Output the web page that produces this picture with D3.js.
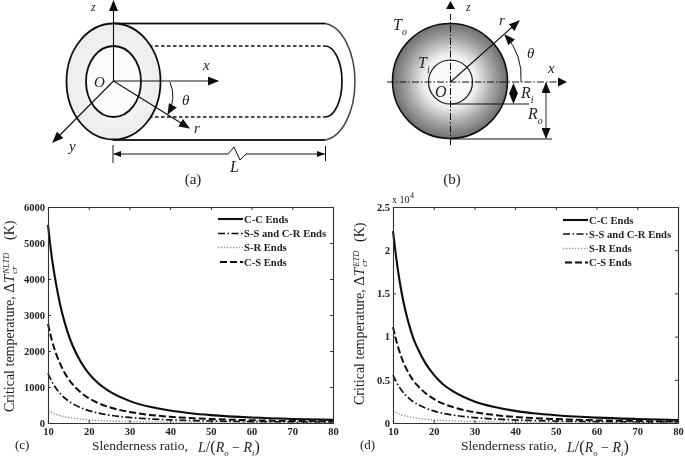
<!DOCTYPE html>
<html>
<head>
<meta charset="utf-8">
<script src="https://cdnjs.cloudflare.com/ajax/libs/d3/7.8.5/d3.min.js"></script>
<style>
  html, body { margin: 0; padding: 0; background: #fff; }
  text { font-family: "Liberation Serif", serif; fill: #222; }
  .it { font-style: italic; }
</style>
</head>
<body>
<svg id="fig" width="685" height="457"></svg>
<script>
'use strict';

var slenderness = [10, 11, 12, 13, 14, 15, 16, 18, 20, 22, 25, 30, 35, 40, 45, 50, 60, 70, 80];

// panel (c), kelvin
var ccNltd = [5500, 4550, 3850, 3280, 2830, 2460, 2160, 1710, 1380, 1140, 885, 615, 450, 345, 272, 220, 153, 112, 86];
var csNltd = [2750, 2280, 1920, 1640, 1410, 1230, 1080, 855, 690, 570, 442, 307, 225, 172, 136, 110, 76, 56, 43];
var ssNltd = [1375, 1140, 960, 820, 705, 615, 540, 428, 345, 285, 221, 154, 113, 86, 68, 55, 38, 28, 21];
var srNltd = [345, 285, 240, 205, 176, 154, 135, 107, 86, 71, 55, 38, 28, 22, 17, 14, 10, 7, 5];

// panel (d), x 10^4 kelvin
var ccEtd = [2.22, 1.84, 1.54, 1.31, 1.13, 0.98, 0.87, 0.69, 0.56, 0.46, 0.36, 0.25, 0.185, 0.14, 0.11, 0.09, 0.062, 0.046, 0.035];
var csEtd = [1.11, 0.92, 0.77, 0.655, 0.565, 0.49, 0.435, 0.345, 0.28, 0.23, 0.18, 0.125, 0.092, 0.07, 0.055, 0.045, 0.031, 0.023, 0.0175];
var ssEtd = [0.555, 0.46, 0.385, 0.328, 0.282, 0.245, 0.217, 0.172, 0.14, 0.115, 0.09, 0.062, 0.046, 0.035, 0.028, 0.0225, 0.0155, 0.0115, 0.0088];
var srEtd = [0.139, 0.115, 0.096, 0.082, 0.071, 0.061, 0.054, 0.043, 0.035, 0.029, 0.022, 0.016, 0.012, 0.009, 0.007, 0.0056, 0.004, 0.003, 0.0022];

var xTicks = [10, 20, 30, 40, 50, 60, 70, 80];
var yTicksC = [0, 1000, 2000, 3000, 4000, 5000, 6000];
var yTicksD = [0, 0.5, 1, 1.5, 2, 2.5];
var legendLabels = ['C-C Ends', 'S-S and C-R Ends', 'S-R Ends', 'C-S Ends'];

var svg = d3.select('#fig');
var defs = svg.append('defs');

defs.append('marker').attr('id', 'arrow')
  .attr('viewBox', '0 0 11 9').attr('refX', 10).attr('refY', 4.5)
  .attr('markerWidth', 11).attr('markerHeight', 9)
  .attr('markerUnits', 'userSpaceOnUse').attr('orient', 'auto-start-reverse')
  .append('path').attr('d', 'M0,0L11,4.5L0,9Z').attr('fill', '#111');

var soft = defs.append('filter').attr('id', 'soft');
soft.append('feGaussianBlur').attr('stdDeviation', 0.35);

var ring = defs.append('radialGradient').attr('id', 'ring');
ring.append('stop').attr('offset', '0%').attr('stop-color', '#fff');
ring.append('stop').attr('offset', '45%').attr('stop-color', '#f0f0f0');
ring.append('stop').attr('offset', '75%').attr('stop-color', '#a4a4a4');
ring.append('stop').attr('offset', '100%').attr('stop-color', '#6e6e6e');

var face = defs.append('radialGradient').attr('id', 'face');
face.append('stop').attr('offset', '0%').attr('stop-color', '#fefefe');
face.append('stop').attr('offset', '100%').attr('stop-color', '#ececec');

function line(g, x1, y1, x2, y2, w, dash, arrow) {
  var l = g.append('line').attr('x1', x1).attr('y1', y1).attr('x2', x2).attr('y2', y2)
    .attr('stroke', '#111').attr('stroke-width', w);
  if (dash) l.attr('stroke-dasharray', dash);
  if (arrow) l.attr('marker-end', 'url(#arrow)');
  return l;
}

// parts = [[text, 'i' | 'sub' | 'big' | ''], ...]
function label(g, x, y, size, parts, anchor) {
  var t = g.append('text').attr('x', x).attr('y', y).attr('font-size', size);
  if (anchor) t.attr('text-anchor', anchor);
  var shift = 0;
  parts.forEach(function (p) {
    var s = t.append('tspan').text(p[0]);
    if (p[1] === 'i') s.attr('class', 'it');
    if (p[1] === 'big') s.attr('font-size', size * 1.15);
    if (p[1] === 'sub') {
      var want = size * 0.3;
      s.attr('class', 'it').attr('font-size', size * 0.62).attr('dy', want - shift);
      shift = want;
    } else if (shift) {
      s.attr('dy', -shift);
      shift = 0;
    }
  });
  return t;
}

function drawCylinder() {
  var g = svg.append('g').attr('filter', 'url(#soft)');
  g.append('path').attr('d', 'M113,23.5H325A33,58.5 0 0 1 325,140H113')
    .attr('fill', 'none').attr('stroke', '#444').attr('stroke-width', 1.5);
  g.append('line').attr('x1', 113).attr('x2', 325).attr('y1', 23.5).attr('y2', 23.5)
    .attr('stroke', '#111').attr('stroke-width', 1.7);
  g.append('line').attr('x1', 113).attr('x2', 325).attr('y1', 140).attr('y2', 140)
    .attr('stroke', '#111').attr('stroke-width', 1.7);
  g.append('path').attr('d', 'M325,46A17,35.5 0 0 1 325,117')
    .attr('fill', 'none').attr('stroke', '#111').attr('stroke-width', 1.7);
  line(g, 125, 46, 325, 46, 1.6, '3.5,2.5');
  line(g, 125, 117, 325, 117, 1.6, '3.5,2.5');
  g.append('ellipse').attr('cx', 113.5).attr('cy', 81.5).attr('rx', 47).attr('ry', 58)
    .attr('fill', 'url(#face)').attr('stroke', '#111').attr('stroke-width', 1.8);
  g.append('ellipse').attr('cx', 113.5).attr('cy', 81.5).attr('rx', 27.5).attr('ry', 35.5)
    .attr('fill', '#fcfcfc').attr('stroke', '#111').attr('stroke-width', 1.8);
  line(g, 113.5, 81, 113.5, 1, 1.1, null, true);
  line(g, 113.5, 81, 218, 81, 1.1, null, true);
  line(g, 113.5, 81, 53, 142, 1.1, null, true);
  line(g, 113.5, 81, 189, 128, 1.1, null, true);
  g.append('path').attr('d', 'M170,82A37,37 0 0 1 168,114')
    .attr('fill', 'none').attr('stroke', '#111').attr('stroke-width', 1).attr('marker-end', 'url(#arrow)');
  line(g, 113, 145, 113, 163, 1, null);
  line(g, 325.5, 146, 325.5, 161, 1, null);
  g.append('path').attr('d', 'M114,154H228L234,147L240,160L246,154H325')
    .attr('fill', 'none').attr('stroke', '#111').attr('stroke-width', 1);
  g.append('path').attr('d', 'M113,154L121,151V157Z').attr('fill', '#111');
  g.append('path').attr('d', 'M325,154L317,151V157Z').attr('fill', '#111');
  label(g, 91, 11, 12, [['z', 'i']]);
  label(g, 203, 70, 15, [['x', 'i']]);
  label(g, 69, 151, 15, [['y', 'i']]);
  label(g, 194, 133, 15, [['r', 'i']]);
  label(g, 94, 87, 15, [['O', 'i']]);
  label(g, 182, 105, 15, [['θ', 'i']]);
  label(g, 230, 172, 16, [['L', 'i']]);
  label(g, 193, 184, 15, [['(a)', '']], 'middle');
}

function drawSection() {
  var g = svg.append('g').attr('filter', 'url(#soft)');
  g.append('circle').attr('cx', 450).attr('cy', 81).attr('r', 57.5)
    .attr('fill', 'url(#ring)').attr('stroke', '#111').attr('stroke-width', 1.6);
  g.append('circle').attr('cx', 450.5).attr('cy', 82).attr('r', 22)
    .attr('fill', '#f8f8f8').attr('stroke', '#111').attr('stroke-width', 1.2);
  line(g, 387, 82, 565, 82, 1, '7,2,1.5,2');
  g.append('path').attr('d', 'M567,82L558,77.5V86.5Z').attr('fill', '#111');
  line(g, 450.5, 145, 450.5, 14, 1, '7,2,1.5,2');
  g.append('path').attr('d', 'M450.5,1L446,9H455Z').attr('fill', '#111');
  line(g, 450.5, 82, 519, 21, 1.1, null, true);
  g.append('path').attr('d', 'M521,82A63,63 0 0 0 505,35')
    .attr('fill', 'none').attr('stroke', '#111').attr('stroke-width', 1).attr('marker-end', 'url(#arrow)');
  line(g, 450.5, 104, 529, 104, 1, null);
  line(g, 450.5, 139, 552, 139, 1, null);
  line(g, 513.5, 93, 513.5, 84, 0.9, null, true);
  line(g, 513.5, 93, 513.5, 103, 0.9, null, true);
  line(g, 546, 110, 546, 83, 0.9, null, true);
  line(g, 546, 110, 546, 138, 0.9, null, true);
  label(g, 466, 11, 12, [['z', 'i']]);
  label(g, 499, 25, 15, [['r', 'i']]);
  label(g, 548, 73, 15, [['x', 'i']]);
  label(g, 527, 58, 15, [['θ', 'i']]);
  label(g, 393, 30, 16, [['T', 'i'], ['o', 'sub']]);
  label(g, 418, 68, 16, [['T', 'i'], ['i', 'sub']]);
  label(g, 435, 97, 16, [['O', 'i']]);
  label(g, 521, 98, 16, [['R', 'i'], ['i', 'sub']]);
  label(g, 528, 119, 16, [['R', 'i'], ['o', 'sub']]);
  label(g, 452, 184, 15, [['(b)', '']], 'middle');
}

var styles = [
  { w: 2.1, dash: null, color: '#0c0c0c' },
  { w: 1.7, dash: '7,2.5,1.5,2.5', color: '#0c0c0c' },
  { w: 1.5, dash: '1.4,1.6', color: '#9a9a9a' },
  { w: 2, dash: '7,3', color: '#0c0c0c' }
];

function drawPanel(o) {
  var g = svg.append('g').attr('filter', 'url(#soft)');
  var x = d3.scaleLinear().domain([10, 80]).range([o.left, o.right]);
  var y = d3.scaleLinear().domain(o.yDomain).range([423, 207]);

  var lineGen = d3.line()
    .x(function (d) { return x(d[0]); })
    .y(function (d) { return y(d[1]); })
    .curve(d3.curveMonotoneX);

  // C-C first, the dotted one ends up on top as in the figure
  [0, 3, 1, 2].forEach(function (k) {
    var s = o.series[k];
    var st = styles[k];
    var p = g.append('path')
      .datum(slenderness.map(function (v, i) { return [v, s[i]]; }))
      .attr('d', lineGen).attr('fill', 'none')
      .attr('stroke', st.color).attr('stroke-width', st.w);
    if (st.dash) p.attr('stroke-dasharray', st.dash);
  });

  var axes = g.append('g');
  axes.append('g').attr('transform', 'translate(0,423)')
    .call(d3.axisBottom(x).tickValues(xTicks).tickSize(-3).tickPadding(5));
  axes.append('g').attr('transform', 'translate(0,207)')
    .call(d3.axisTop(x).tickValues(xTicks).tickSize(-3).tickFormat(''));
  axes.append('g').attr('transform', 'translate(' + o.left + ',0)')
    .call(d3.axisLeft(y).tickValues(o.yTicks).tickSize(-3).tickPadding(3).tickFormat(o.yFormat));
  axes.append('g').attr('transform', 'translate(' + o.right + ',0)')
    .call(d3.axisRight(y).tickValues(o.yTicks).tickSize(-3).tickFormat(''));
  axes.selectAll('.domain').attr('stroke', '#333').attr('stroke-width', 1.1);
  axes.selectAll('.tick line').attr('stroke', '#333').attr('stroke-width', 1);
  axes.selectAll('.tick text').attr('font-size', 10.5).attr('font-weight', 'bold')
    .attr('font-family', '"Liberation Serif", serif').attr('fill', '#333');

  legendLabels.forEach(function (name, i) {
    var st = styles[i];
    var ly = o.legendY[i];
    var l = g.append('line').attr('x1', o.legendX + (i === 3 ? 2 : 0)).attr('x2', o.legendX + 25)
      .attr('y1', ly).attr('y2', ly)
      .attr('stroke', st.color).attr('stroke-width', st.w);
    if (st.dash) l.attr('stroke-dasharray', st.dash);
    g.append('text').attr('x', o.legendX + 26).attr('y', ly + 3.5)
      .attr('font-size', 10.6).attr('font-weight', 'bold').attr('fill', '#333').text(name);
  });

  // y title, the T carries a superscript and a subscript stacked
  var yt = g.append('g').attr('transform', 'translate(' + o.yTitleX + ',' + o.yTitleY + ') rotate(-90)');
  var head = label(yt, 0, 0, 14, [['Critical temperature,  ', ''], ['Δ', ''], ['T', 'i']]);
  head.selectAll('tspan').filter(function (d, i) { return i > 0; }).attr('font-size', 15);
  var end = head.node().getComputedTextLength() + 1;
  label(yt, end, -5, 8.5, [[o.yTitleSup, 'i']]);
  label(yt, end, 3, 9, [['cr', 'i']]);
  label(yt, o.unitX, 0, 14, [['(K)', '']]);

  // x title
  label(g, o.xTitleX, 450, 13.5, [['Slenderness ratio,', '']]);
  label(g, o.formulaX, 452, 14, [['L', 'i'], ['/', 'big'], ['(', 'big'], ['R', 'i'], ['o', 'sub'], [' − ', ''], ['R', 'i'], ['i', 'sub'], [')', 'big']]);
  label(g, o.tagX, 449, 13, [[o.tag, '']]);
  return g;
}

drawCylinder();
drawSection();

var panelC = drawPanel({
  left: 48, right: 333, yDomain: [0, 6000], yTicks: yTicksC, yFormat: d3.format('d'),
  series: [ccNltd, ssNltd, srNltd, csNltd],
  legendX: 218, legendY: [219, 233.5, 247.5, 262],
  yTitleX: 14, yTitleY: 412, yTitleSup: 'NLTD', unitX: 172,
  xTitleX: 92, formulaX: 198, tagX: 15, tag: '(c)'
});

var panelD = drawPanel({
  left: 393, right: 678, yDomain: [0, 2.5], yTicks: yTicksD, yFormat: function (d) { return String(d); },
  series: [ccEtd, ssEtd, srEtd, csEtd],
  legendX: 563, legendY: [220, 234, 248.5, 262.5],
  yTitleX: 364, yTitleY: 405, yTitleSup: 'ETD', unitX: 163,
  xTitleX: 461, formulaX: 567, tagX: 360, tag: '(d)'
});

label(panelD, 392, 203, 10, [['x 10', '']]);
label(panelD, 410, 198, 8, [['4', '']]);
</script>
</body>
</html>
